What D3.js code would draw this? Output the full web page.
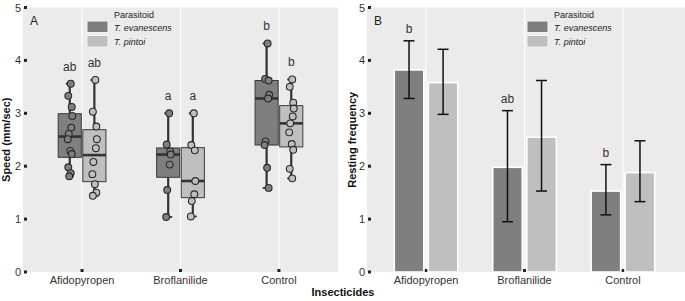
<!DOCTYPE html>
<html>
<head>
<meta charset="utf-8">
<script src="https://cdn.jsdelivr.net/npm/d3@7"></script>
<style>
    body { margin: 0; background: #fff; }
    svg { display: block; font-family: "Liberation Sans", Arial, sans-serif; }
</style>
</head>
<body>
<div id="chart"></div>
<script>
// Categories and groups
const insecticides = ['Afidopyropen', 'Broflanilide', 'Control'];
const parasitoids = ['T. evanescens', 'T. pintoi'];
const yTicks = [0, 1, 2, 3, 4, 5];

// Panel A: individual speed values (mm/sec)
const speedEvanescens = [
    [3.56, 3.33, 3.12, 2.95, 2.73, 2.61, 2.51, 2.29, 2.23, 1.98, 1.87, 1.81],
    [3.00, 2.41, 2.28, 2.22, 2.03, 1.55, 1.04],
    [4.32, 3.65, 3.62, 3.35, 3.28, 2.47, 2.40, 1.97, 1.59]
];
const speedPintoi = [
    [3.63, 3.03, 2.75, 2.51, 2.34, 2.08, 1.85, 1.66, 1.50, 1.44],
    [3.00, 2.40, 2.30, 1.72, 1.47, 1.34, 1.05],
    [3.64, 3.50, 3.20, 3.09, 2.94, 2.81, 2.64, 2.42, 2.31, 1.95, 1.77]
];
const speedLettersEvanescens = ['ab', 'a', 'b'];
const speedLettersPintoi = ['ab', 'a', 'b'];

// Panel B: resting frequency mean and error bar limits
const restEvanescens = [3.82, 1.98, 1.53];
const restEvanescensLow = [3.28, 0.95, 1.08];
const restEvanescensHigh = [4.37, 3.05, 2.03];
const restPintoi = [3.58, 2.55, 1.88];
const restPintoiLow = [2.98, 1.53, 1.33];
const restPintoiHigh = [4.21, 3.62, 2.48];
const restLettersEvanescens = ['b', 'ab', 'b'];

const colors = { 'T. evanescens': '#7f7f7f', 'T. pintoi': '#bfbfbf' };
const jitter = [1, -1.5, 2, 2.5, 1.5, -1, -2, 0.5, 2, -1.5, 1, -0.5];

const svg = d3.select('#chart')
    .append('svg')
    .attr('width', 685)
    .attr('height', 301);

const panelTop = 7.5, panelBottom = 272;

const y = d3.scaleLinear()
    .domain([0, 5])
    .range([panelBottom, panelTop]);

function drawPanel(left, right, rangeRight, tag, yTitle, yTitleX) {
    const g = svg.append('g');

    // Panel background
    g.append('rect')
        .attr('x', left)
        .attr('y', panelTop)
        .attr('width', right - left)
        .attr('height', panelBottom - panelTop)
        .attr('fill', '#ebebeb');

    const x = d3.scalePoint()
        .domain(insecticides)
        .range([left, rangeRight])
        .padding(0.6);

    // Vertical grid lines at categories
    g.selectAll('.grid')
        .data(insecticides)
        .join('line')
        .attr('x1', d => x(d))
        .attr('x2', d => x(d))
        .attr('y1', panelTop)
        .attr('y2', panelBottom)
        .attr('stroke', '#fff')
        .attr('stroke-width', 1.2);

    // Y ticks + labels
    g.selectAll('.ytick')
        .data(yTicks)
        .join('rect')
        .attr('x', left + 1)
        .attr('y', d => y(d) - 1.5)
        .attr('width', 3)
        .attr('height', 3)
        .attr('fill', '#222');

    g.selectAll('.ylab')
        .data(yTicks)
        .join('text')
        .attr('x', left - 2)
        .attr('y', d => y(d) + 4)
        .attr('text-anchor', 'end')
        .attr('font-size', 11)
        .attr('fill', '#333')
        .text(d => d);

    // X ticks + labels
    g.selectAll('.xtick')
        .data(insecticides)
        .join('rect')
        .attr('x', d => x(d) - 1.5)
        .attr('y', panelBottom - 3)
        .attr('width', 3)
        .attr('height', 3)
        .attr('fill', '#222');

    g.selectAll('.xlab')
        .data(insecticides)
        .join('text')
        .attr('x', d => x(d))
        .attr('y', 284)
        .attr('text-anchor', 'middle')
        .attr('font-size', 11)
        .attr('fill', '#333')
        .text(d => d);

    // Panel tag
    g.append('text')
        .attr('x', left + 7)
        .attr('y', 25)
        .attr('font-size', 12)
        .attr('fill', '#222')
        .text(tag);

    // Y title
    g.append('text')
        .attr('transform', `translate(${yTitleX},${(panelTop + panelBottom) / 2}) rotate(-90)`)
        .attr('text-anchor', 'middle')
        .attr('font-size', 11)
        .attr('font-weight', 'bold')
        .attr('fill', '#111')
        .text(yTitle);

    return { g, x };
}

function drawLegend(g, lx) {
    g.append('text')
        .attr('x', lx + 27)
        .attr('y', 18)
        .attr('font-size', 9)
        .attr('fill', '#222')
        .text('Parasitoid');

    parasitoids.forEach((p, i) => {
        g.append('rect')
            .attr('x', lx)
            .attr('y', 21 + i * 14.5)
            .attr('width', 21)
            .attr('height', 11.5)
            .attr('fill', colors[p])
            .attr('stroke', '#f4f4f4')
            .attr('stroke-width', 1);
        g.append('text')
            .attr('x', lx + 27)
            .attr('y', 30.5 + i * 14.5)
            .attr('font-size', 9)
            .attr('font-style', 'italic')
            .attr('fill', '#222')
            .text(p);
    });
}

// ---------- Panel A: box plots ----------
const panelA = drawPanel(23, 338, 338, 'A', 'Speed (mm/sec)', 10);
const stepA = panelA.x.step();
const boxW = 0.235 * stepA;
const offA = 0.125 * stepA;

const boxData = [];
insecticides.forEach((c, i) => {
    [[parasitoids[0], speedEvanescens[i], speedLettersEvanescens[i], -1],
     [parasitoids[1], speedPintoi[i], speedLettersPintoi[i], 1]].forEach(([p, vals, letter, side]) => {
        const s = vals.slice().sort(d3.ascending);
        boxData.push({
            cat: c, group: p, vals: vals, letter: letter,
            cx: panelA.x(c) + side * offA,
            min: s[0], max: s[s.length - 1],
            q1: d3.quantile(s, 0.25), med: d3.quantile(s, 0.5), q3: d3.quantile(s, 0.75)
        });
    });
});

const boxes = panelA.g.append('g')
    .selectAll('g')
    .data(boxData)
    .join('g');

// Whisker line with caps
boxes.append('line')
    .attr('x1', d => d.cx)
    .attr('x2', d => d.cx)
    .attr('y1', d => y(d.min))
    .attr('y2', d => y(d.max))
    .attr('stroke', '#333')
    .attr('stroke-width', 2.2);

boxes.selectAll('.cap')
    .data(d => [{ cx: d.cx, v: d.min }, { cx: d.cx, v: d.max }])
    .join('line')
    .attr('x1', d => d.cx - 4)
    .attr('x2', d => d.cx + 4)
    .attr('y1', d => y(d.v))
    .attr('y2', d => y(d.v))
    .attr('stroke', '#333')
    .attr('stroke-width', 1.8);

boxes.append('rect')
    .attr('x', d => d.cx - boxW / 2)
    .attr('y', d => y(d.q3))
    .attr('width', boxW)
    .attr('height', d => y(d.q1) - y(d.q3))
    .attr('fill', d => colors[d.group])
    .attr('stroke', '#3a3a3a')
    .attr('stroke-width', 1);

boxes.append('line')
    .attr('x1', d => d.cx - boxW / 2)
    .attr('x2', d => d.cx + boxW / 2)
    .attr('y1', d => y(d.med))
    .attr('y2', d => y(d.med))
    .attr('stroke', '#333')
    .attr('stroke-width', 2.6);

boxes.selectAll('circle')
    .data(d => d.vals.map((v, i) => ({ v, i, cx: d.cx, group: d.group })))
    .join('circle')
    .attr('cx', d => d.cx + jitter[d.i % jitter.length])
    .attr('cy', d => y(d.v))
    .attr('r', 3.4)
    .attr('fill', d => colors[d.group])
    .attr('stroke', '#2a2a2a')
    .attr('stroke-width', 1.1);

boxes.append('text')
    .attr('x', d => d.cx)
    .attr('y', d => y(d.max) - 13)
    .attr('text-anchor', 'middle')
    .attr('font-size', 12)
    .attr('fill', '#333')
    .text(d => d.letter);

drawLegend(panelA.g, 87);

// ---------- Panel B: bars with error bars ----------
const panelB = drawPanel(367, 685, 682, 'B', 'Resting frequency', 356);
const stepB = panelB.x.step();
const barW = 0.3 * stepB;
const offB = 0.173 * stepB;

const barData = [];
insecticides.forEach((c, i) => {
    barData.push({ cat: c, group: parasitoids[0], v: restEvanescens[i], lo: restEvanescensLow[i], hi: restEvanescensHigh[i], letter: restLettersEvanescens[i], cx: panelB.x(c) - offB });
    barData.push({ cat: c, group: parasitoids[1], v: restPintoi[i], lo: restPintoiLow[i], hi: restPintoiHigh[i], letter: '', cx: panelB.x(c) + offB });
});

const bars = panelB.g.append('g')
    .selectAll('g')
    .data(barData)
    .join('g');

bars.append('rect')
    .attr('x', d => d.cx - barW / 2)
    .attr('y', d => y(d.v))
    .attr('width', barW)
    .attr('height', d => y(0) - y(d.v))
    .attr('fill', d => colors[d.group])
    .attr('stroke', '#fff')
    .attr('stroke-width', 1.6);

bars.append('line')
    .attr('x1', d => d.cx)
    .attr('x2', d => d.cx)
    .attr('y1', d => y(d.lo))
    .attr('y2', d => y(d.hi))
    .attr('stroke', '#111')
    .attr('stroke-width', 1.5);

bars.selectAll('.cap')
    .data(d => [{ cx: d.cx, v: d.lo }, { cx: d.cx, v: d.hi }])
    .join('line')
    .attr('x1', d => d.cx - 5.5)
    .attr('x2', d => d.cx + 5.5)
    .attr('y1', d => y(d.v))
    .attr('y2', d => y(d.v))
    .attr('stroke', '#111')
    .attr('stroke-width', 1.5);

bars.append('text')
    .attr('x', d => d.cx)
    .attr('y', d => y(d.hi) - 8)
    .attr('text-anchor', 'middle')
    .attr('font-size', 12)
    .attr('fill', '#333')
    .text(d => d.letter);

drawLegend(panelB.g, 527);

// Shared x title
svg.append('text')
    .attr('x', 343)
    .attr('y', 296)
    .attr('text-anchor', 'middle')
    .attr('font-size', 11)
    .attr('font-weight', 'bold')
    .attr('fill', '#111')
    .text('Insecticides');
</script>
</body>
</html>
